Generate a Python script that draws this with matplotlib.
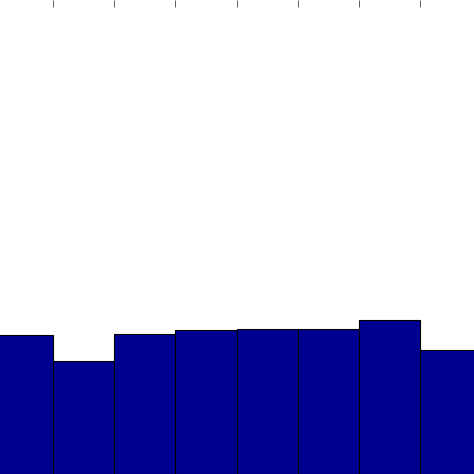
import matplotlib
matplotlib.use("Agg")
import matplotlib.pyplot as plt

bin_left = [0, 1, 2, 3, 4, 5, 6, 7]
heights = [29.3, 23.8, 29.5, 30.4, 30.6, 30.6, 32.5, 26.2]
tick_pos = [1, 2, 3, 4, 5, 6, 7]

fig = plt.figure(figsize=(4.74, 4.74), dpi=100)
ax = fig.add_axes([0, 0, 1, 1])
ax.bar(bin_left, heights, width=1, align='edge', color='#000090', edgecolor='black', linewidth=0.8)
ax.set_xlim(1 - 53/61.17, 7 + 54/61.17)
ax.set_ylim(0, 100)
for s in ax.spines.values():
    s.set_visible(False)
ax.set_xticks(tick_pos)
ax.set_xticklabels([])
ax.set_yticks([])
ax.tick_params(axis='x', direction='in', top=True, bottom=False, length=5, width=0.6, color='#444444')
fig.savefig("out.png", dpi=100)
